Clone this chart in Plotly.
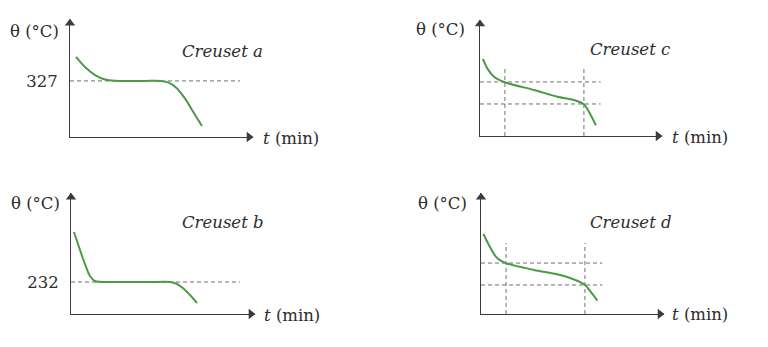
import plotly.graph_objects as go

W, H = 768, 347

# ---------------- data ----------------
# Creuset a : temperature (°C) vs time (arbitrary min units)
a_t = [0.33, 0.82, 1.37, 1.91, 2.46, 3.28, 4.10, 4.92, 5.36, 5.79, 6.28, 6.72, 7.21]
a_T = [360, 346, 335, 329, 327.3, 327, 327, 327, 325, 318, 303, 285, 265]
a_level = 327
a_ticks = ["327"]

# Creuset b
b_t = [0.16, 0.38, 0.60, 0.82, 1.03, 1.30, 2.12, 3.21, 4.29, 5.38, 5.76, 6.14, 6.52, 6.85]
b_T = [282, 270, 258, 247, 238, 233, 232, 232, 232, 232, 230, 225, 218, 211]
b_level = 232
b_ticks = ["232"]

# Creuset c (no numeric scale on θ)
c_t = [0.16, 0.40, 0.77, 1.36, 2.97, 4.25, 5.16, 5.71, 6.08, 6.37]
c_T = [6.64, 5.83, 5.11, 4.63, 3.97, 3.39, 3.10, 2.73, 1.81, 0.92]
c_levels = [4.66, 2.76]
c_times = [1.37, 5.71]

# Creuset d
d_t = [0.13, 0.58, 0.89, 1.35, 2.90, 4.54, 5.68, 5.99, 6.36]
d_T = [6.61, 5.29, 4.60, 4.21, 3.64, 3.14, 2.40, 1.84, 1.10]
d_levels = [4.21, 2.40]
d_times = [1.37, 5.68]

titles = ["Creuset a", "Creuset b", "Creuset c", "Creuset d"]
y_label = "θ (°C)"
x_label = "<i>t</i> (min)"

# ---------------- style ----------------
GREEN = "#4b9a44"
AX = "#3c3c3c"
DASH = "#707070"
TXT = "#2d2d2d"
FONT = "DejaVu Serif"
FS = 16.5

fig = go.Figure()

# panel geometry in pixels: (x_left, x_right, y_bottom, y_top)
panels = {
    "a": dict(px=(70, 253, 137, 19), yr=(250, 412), n=1),
    "b": dict(px=(71, 255, 314, 193), yr=(200, 321), n=2),
    "c": dict(px=(480, 662, 136, 20), yr=(0, 10), n=3),
    "d": dict(px=(481, 664, 314, 193), yr=(0, 10), n=4),
}

curves = {"a": (a_t, a_T), "b": (b_t, b_T), "c": (c_t, c_T), "d": (d_t, d_T)}


def ax_names(n):
    return ("x" if n == 1 else f"x{n}", "y" if n == 1 else f"y{n}")


def dashed(x, y, xa, ya):
    fig.add_trace(go.Scatter(x=x, y=y, mode="lines",
                             line=dict(color=DASH, width=1, dash="4px,3px"),
                             xaxis=xa, yaxis=ya, hoverinfo="skip"))


for key, p in panels.items():
    n = p["n"]
    xa, ya = ax_names(n)
    x0, x1, yb, yt = p["px"]
    y0, y1 = p["yr"]

    # dashed guides
    if key == "a":
        dashed([0, 9.29], [a_level, a_level], xa, ya)
    if key == "b":
        dashed([0, 9.18], [b_level, b_level], xa, ya)
    if key in ("c", "d"):
        levels = c_levels if key == "c" else d_levels
        times = c_times if key == "c" else d_times
        for lv in levels:
            dashed([0, 6.63], [lv, lv], xa, ya)
        for tm in times:
            dashed([tm, tm], [0, 5.87], xa, ya)

    # cooling curve
    t, T = curves[key]
    fig.add_trace(go.Scatter(x=t, y=T, mode="lines",
                             line=dict(color=GREEN, width=2, shape="spline", smoothing=0.8),
                             xaxis=xa, yaxis=ya, hoverinfo="skip"))

    # arrow heads
    fig.add_trace(go.Scatter(x=[9.78], y=[y0], mode="markers",
                             marker=dict(symbol="triangle-right", size=9, color=AX),
                             cliponaxis=False, xaxis=xa, yaxis=ya, hoverinfo="skip"))
    fig.add_trace(go.Scatter(x=[0], y=[y1 - (y1 - y0) * 0.035], mode="markers",
                             marker=dict(symbol="triangle-up", size=9, color=AX),
                             cliponaxis=False, xaxis=xa, yaxis=ya, hoverinfo="skip"))

    xaxis = dict(domain=[x0 / W, x1 / W], range=[0, 10], anchor=ya,
                 showline=True, linecolor=AX, linewidth=1, showgrid=False,
                 zeroline=False, showticklabels=False, ticks="", fixedrange=True)
    if key == "a":
        tv, tt = [a_level], a_ticks
    elif key == "b":
        tv, tt = [b_level], b_ticks
    else:
        tv, tt = [], []
    yaxis = dict(domain=[1 - yb / H, 1 - yt / H], range=[y0, y1], anchor=xa,
                 showline=True, linecolor=AX, linewidth=1, showgrid=False,
                 zeroline=False, ticks="", tickvals=tv, ticktext=tt,
                 ticklabelstandoff=8,
                 tickfont=dict(family=FONT, size=FS, color=TXT), fixedrange=True)
    fig.layout["xaxis" if n == 1 else f"xaxis{n}"] = xaxis
    fig.layout["yaxis" if n == 1 else f"yaxis{n}"] = yaxis


# text annotations (pixel positions -> paper coords)
def ann(text, x, y, xanchor, italic=False):
    fig.add_annotation(text=f"<i>{text}</i>" if italic else text,
                       x=x / W, y=1 - y / H, xref="paper", yref="paper",
                       xanchor=xanchor, yanchor="middle", showarrow=False,
                       font=dict(family=FONT, size=FS, color=TXT))


ann(y_label, 61, 31, "right")
ann(y_label, 467, 29, "right")
ann(y_label, 62, 203, "right")
ann(y_label, 469, 203, "right")

ann(titles[0], 222, 51, "center", True)
ann(titles[2], 630, 49, "center", True)
ann(titles[1], 223, 223, "center", True)
ann(titles[3], 631, 223, "center", True)

ann(x_label, 261, 138, "left")
ann(x_label, 670, 137, "left")
ann(x_label, 262, 315, "left")
ann(x_label, 670, 314, "left")

fig.update_layout(width=W, height=H, margin=dict(l=0, r=0, t=0, b=0),
                  paper_bgcolor="white", plot_bgcolor="white", showlegend=False)

fig.write_html("out.html")
